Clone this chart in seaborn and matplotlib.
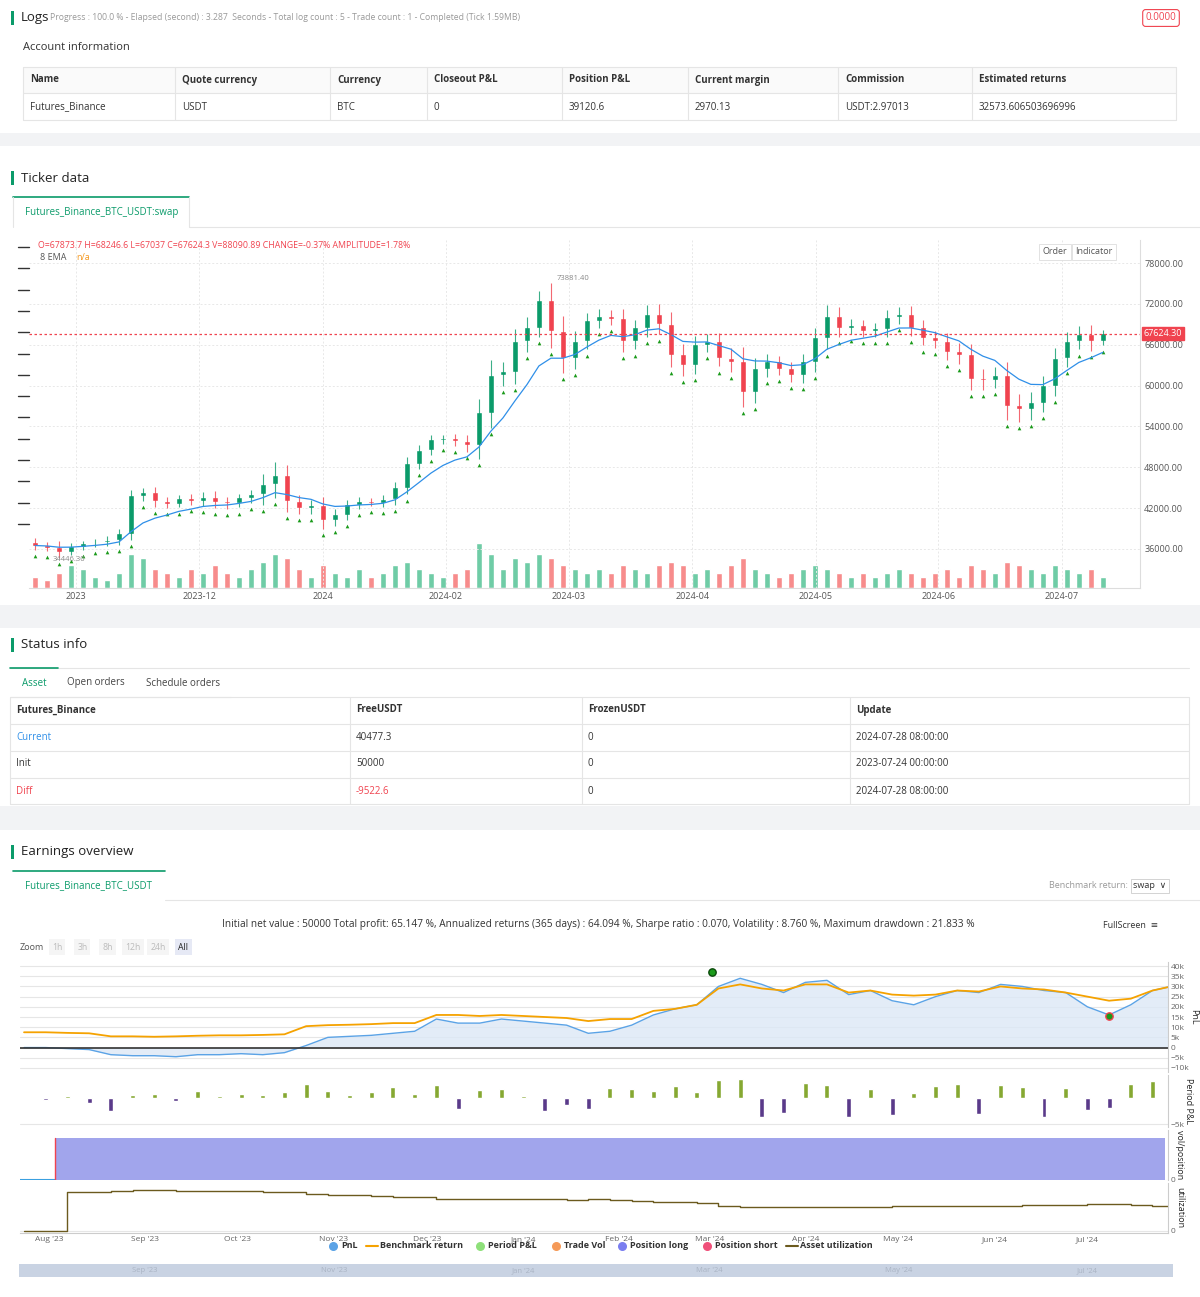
import matplotlib
matplotlib.use("Agg")
import matplotlib.pyplot as plt
import seaborn as sns
import numpy as np
import pandas as pd

# ---------------- data ----------------
acct_cols = ["Name", "Quote currency", "Currency", "Closeout P&L", "Position P&L",
             "Current margin", "Commission", "Estimated returns"]
acct_vals = ["Futures_Binance", "USDT", "BTC", "0", "39120.6", "2970.13",
             "USDT:2.97013", "32573.606503696996"]

status_cols = ["Futures_Binance", "FreeUSDT", "FrozenUSDT", "Update"]
status_rows = [["Current", "40477.3", "0", "2024-07-28 08:00:00"],
               ["Init", "50000", "0", "2023-07-24 00:00:00"],
               ["Diff", "-9522.6", "0", "2024-07-28 08:00:00"]]

closes = [36500, 36200, 35600, 36300, 36800, 37000, 37300, 38200, 43800, 44300,
          43000, 42600, 43400, 43000, 43600, 42900, 42700, 43500, 44000, 45500,
          46800, 43000, 42000, 42400, 40200, 41000, 42500, 43000, 42800, 43300,
          45000, 48500, 50500, 52000, 52200, 51800, 51200, 56000, 61500, 62000,
          66500, 68500, 72500, 68000, 64000, 66500, 69500, 70200, 69800, 66500,
          68500, 70500, 69000, 64500, 63000, 66000, 66500, 64000, 63500, 59000,
          62500, 63500, 62500, 61500, 63500, 67000, 70200, 68500, 68800, 68000,
          68300, 70000, 70500, 68500, 67000, 66500, 65000, 64500, 61000, 60800,
          61500, 57000, 56500, 57500, 60000, 64000, 66500, 67500, 66500, 67624.3]
first_open = 37000
wicks = [600, 500, 900, 500, 400, 500, 600, 700, 900, 700, 800, 600, 500, 600, 700,
         900, 800, 600, 700, 1500, 2000, 1600, 900, 800, 1200, 800, 700, 600, 500, 600,
         900, 1000, 800, 700, 600, 700, 900, 2000, 2200, 1500, 1800, 1600, 1400, 2500,
         2200, 1500, 1200, 1000, 900, 1500, 1200, 1300, 1500, 1800, 1600, 1300, 1100,
         1200, 1500, 2200, 1600, 1200, 900, 1000, 1100, 1500, 1700, 1300, 1000, 900,
         900, 1100, 1000, 1200, 1100, 1000, 1200, 1300, 1600, 1400, 1200, 2000, 1800,
         1500, 1400, 1500, 1300, 1200, 1400, 600]
volumes = [3, 2, 4, 6, 5, 3, 2, 4, 9, 8, 5, 4, 3, 5, 4, 6, 4, 3, 5, 7, 9, 8, 5, 3, 6,
           4, 3, 5, 3, 4, 6, 7, 5, 4, 3, 4, 5, 12, 9, 5, 8, 7, 9, 8, 6, 5, 4, 5, 4, 6,
           5, 4, 6, 7, 6, 4, 5, 4, 6, 8, 5, 4, 3, 4, 5, 6, 5, 4, 3, 4, 3, 4, 5, 4, 3,
           4, 5, 3, 6, 5, 4, 7, 6, 5, 4, 6, 5, 4, 5, 3]
cand_ticks = [3.4, 13.7, 24, 34.25, 44.5, 54.8, 65.1, 75.3, 85.6]
cand_labels = ["2023", "2023-12", "2024", "2024-02", "2024-03", "2024-04",
               "2024-05", "2024-06", "2024-07"]

week_days = list(range(0, 365, 7)) + [370]
pnl = [0, 0, -0.5, -1, -3.5, -4, -4, -4.5, -3.5, -3.5, -3, -3.5, -2.5, 1, 5, 5.5, 6,
       7, 8, 14, 12, 12, 14, 13, 12, 11, 7, 8, 11, 16, 19, 21, 30, 34, 31, 27, 32, 33,
       26, 28, 23, 21, 25, 28, 27, 31, 30, 28, 27, 20, 16, 21, 28, 30]
bench = [7.5, 7.5, 7.2, 7, 5.5, 5.5, 5.3, 5.5, 5.8, 6, 6, 6.2, 6.5, 10.5, 11, 11.2,
         11.5, 12, 12, 16, 16, 15.5, 16, 15.5, 15, 14.5, 13, 14, 14, 18, 19, 21, 29,
         31, 29, 28, 31, 31, 27, 28, 26, 25.5, 26, 28, 27.5, 30, 29, 28.5, 27, 25,
         23, 24, 28, 30]
period_pnl = [0, -0.3, 0.5, -0.8, -2.5, 0.6, 0.8, -0.5, 1.5, 0.4, 0.8, 0.6, 1.2, 2.8,
              1.5, 0.6, 1.2, 2.2, 0.9, 2.5, -2.0, 1.6, 1.8, 0.5, -2.5, -1.2, -2.1, 2.0,
              1.8, 1.5, 2.3, 1.2, 3.6, 3.8, -3.5, -2.8, 3.0, 2.5, -3.6, 1.8, -3.2, 1.1,
              2.4, 2.8, -3.0, 2.6, 2.2, -3.5, 2.0, -2.3, -1.8, 2.8, 3.3, 2.5]
util = [0, 0, 78, 78, 80, 81, 81, 80, 80, 79, 79, 78, 77, 73, 72, 71, 70, 68, 67,
        64, 64, 63, 63, 64, 63, 62, 63, 61, 60, 58, 57, 55, 50, 48, 47, 47, 48, 48,
        47, 48, 50, 49, 50, 49, 50, 50, 51, 51, 52, 53, 53, 52, 50, 50]
month_days = [8, 39, 69, 100, 130, 161, 192, 221, 252, 282, 313, 343]
month_labels = ["Aug '23", "Sep '23", "Oct '23", "Nov '23", "Dec '23", "Jan '24",
                "Feb '24", "Mar '24", "Apr '24", "May '24", "Jun '24", "Jul '24"]

# ---------------- figure ----------------
sns.set_style("white")
plt.rcParams['font.family'] = ['Open Sans', 'DejaVu Sans']
W, H = 1200, 1297
fig = plt.figure(figsize=(W / 100, H / 100), dpi=100)
GREEN, RED, GRAY = "#0b9b6a", "#f0434f", "#555555"


def ax_at(x0, y0, x1, y1, **kw):
    return fig.add_axes([x0 / W, 1 - y1 / H, (x1 - x0) / W, (y1 - y0) / H], **kw)


bg = ax_at(0, 0, W, H)
bg.set_xlim(0, W)
bg.set_ylim(H, 0)
bg.axis("off")
bg.set_zorder(5)
bg.patch.set_alpha(0)
for y0, y1 in [(133, 146), (605, 628), (806, 830)]:
    bg.add_patch(plt.Rectangle((0, y0), W, y1 - y0, color="#f2f3f5", lw=0))
for y, t in [(18, "Logs"), (178, "Ticker data"), (645, "Status info"), (852, "Earnings overview")]:
    bg.add_patch(plt.Rectangle((11, y - 7), 3, 14, color=GREEN, lw=0))
    bg.text(21, y, t, fontsize=9.5, va="center", color="#222222")
bg.text(50, 18, "Progress : 100.0 % - Elapsed (second) : 3.287  Seconds - Total log count : 5 - Trade count : 1 - Completed (Tick 1.59MB)",
        fontsize=6.2, va="center", color="#999999")
bg.text(1161, 18, "0.0000", fontsize=7, va="center", ha="center", color=RED,
        bbox=dict(boxstyle="round,pad=0.3", fc="white", ec=RED, lw=0.8))
bg.text(23, 47, "Account information", fontsize=8, va="center", color="#333333")

# account table
cx = [23, 175, 330, 427, 562, 688, 838, 972, 1176]
bg.add_patch(plt.Rectangle((23, 67), 1153, 26, color="#fafafa", lw=0))
for yy in [67, 93, 120]:
    bg.plot([23, 1176], [yy, yy], color="#e5e5e5", lw=0.8)
for xx in cx:
    bg.plot([xx, xx], [67, 120], color="#e5e5e5", lw=0.8)
for i in range(8):
    bg.text(cx[i] + 7, 80, acct_cols[i], fontsize=7, va="center", weight="bold", color="#333333")
    bg.text(cx[i] + 7, 107, acct_vals[i], fontsize=7, va="center", color="#333333")

# ticker tab
bg.text(25, 212, "Futures_Binance_BTC_USDT:swap", fontsize=7, va="center", color=GREEN)
bg.plot([13, 189], [197, 197], color=GREEN, lw=1.2)
bg.plot([13, 13], [197, 227], color="#e5e5e5", lw=0.8)
bg.plot([189, 189], [197, 227], color="#e5e5e5", lw=0.8)
bg.plot([189, 1200], [227, 227], color="#e5e5e5", lw=0.8)
for y in np.arange(247, 530, 21.3):
    bg.plot([18, 29], [y, y], color="#333333", lw=1)
bg.text(1055, 252, "Order", fontsize=6.5, va="center", ha="center", color=GRAY,
        bbox=dict(boxstyle="square,pad=0.4", fc="white", ec="#dddddd", lw=0.6))
bg.text(1094, 252, "Indicator", fontsize=6.5, va="center", ha="center", color=GRAY,
        bbox=dict(boxstyle="square,pad=0.4", fc="white", ec="#dddddd", lw=0.6))
bg.text(38, 245, "O=67873.7 H=68246.6 L=67037 C=67624.3 V=88090.89 CHANGE=-0.37% AMPLITUDE=1.78%",
        fontsize=6.3, va="center", color=RED)
bg.text(40, 257, "8 EMA", fontsize=6.5, va="center", color=GRAY)
bg.text(76, 257, "n/a", fontsize=6.5, va="center", color="#f59a23")

# ---------------- candlestick chart ----------------
ax = ax_at(29, 240, 1140, 588)
n = len(closes)
idx = np.arange(n)
opens = np.array([first_open] + closes[:-1], dtype=float)
cl = np.array(closes, dtype=float)
wk = np.array(wicks, dtype=float)
hi = np.maximum(opens, cl) + wk
lo = np.minimum(opens, cl) - wk
up = cl >= opens
cols = np.where(up, GREEN, RED)
vax = ax.twinx()
vax.bar(idx, volumes, width=0.55, color=np.where(up, "#6fcca6", "#f78c8c"))
vax.set_ylim(0, max(volumes) * 348 / 45)
vax.axis("off")
ax.set_zorder(vax.get_zorder() + 1)
ax.patch.set_alpha(0)
ax.vlines(idx, lo, hi, colors=cols, lw=0.8, alpha=0.8)
ax.bar(idx, np.abs(cl - opens) + 80, bottom=np.minimum(opens, cl), width=0.55, color=cols)
ema = pd.Series(cl).ewm(span=8, adjust=False).mean()
sns.lineplot(x=idx, y=ema.values, ax=ax, color="#2f8fe8", lw=0.9)
ax.scatter(idx, lo - 900, marker="^", s=7, color="#1a9a1a", lw=0)
ax.axhline(closes[-1], color=RED, ls=(0, (2, 2)), lw=0.9)
ax.set_xlim(-0.5, 92.1)
vax.set_xlim(-0.5, 92.1)
ax.set_ylim(30260, 81380)
ticks = np.arange(36000, 78001, 6000)
ax.set_yticks(ticks)
ax.yaxis.tick_right()
ax.set_yticklabels([f"{v:.2f}" for v in ticks], fontsize=6.5, color=GRAY)
ax.set_xticks(cand_ticks)
ax.set_xticklabels(cand_labels, fontsize=6.5, color=GRAY)
ax.tick_params(length=0, pad=3)
ax.grid(True, color="#e8e8e8", ls=(0, (2, 2)), lw=0.7)
for s in ["top", "left"]:
    ax.spines[s].set_visible(False)
for s in ["right", "bottom"]:
    ax.spines[s].set_color("#dddddd")
ax.text(92.4, closes[-1], f"{closes[-1]:.2f}", fontsize=6.5, color="white", va="center",
        bbox=dict(boxstyle="square,pad=0.2", fc=RED, ec=RED))
pk = int(np.argmax(hi))
ax.text(pk + 0.5, hi[pk] + 500, "73881.40", fontsize=5.5, color="#888888")
ax.text(1.5, 34446.3, "34446.30", fontsize=5.5, color="#888888", va="center")

# ---------------- status table ----------------
bg.plot([10, 1189], [668, 668], color="#e5e5e5", lw=0.8)
for xt, t in [(34, "Asset"), (96, "Open orders"), (183, "Schedule orders")]:
    bg.text(xt, 683, t, fontsize=7, va="center", ha="center", color=GREEN if t == "Asset" else "#444444")
bg.plot([10, 231], [697, 697], color="#e5e5e5", lw=0.8)
bg.plot([10, 58], [668, 668], color=GREEN, lw=1.2)
sx = [10, 350, 582, 850, 1189]
for yy in [697, 724, 751, 778, 804]:
    bg.plot([10, 1189], [yy, yy], color="#e5e5e5", lw=0.8)
for xx in sx:
    bg.plot([xx, xx], [697, 804], color="#e5e5e5", lw=0.8)
for i in range(4):
    bg.text(sx[i] + 6, 710, status_cols[i], fontsize=7, va="center", weight="bold", color="#333333")
for r, row in enumerate(status_rows):
    for i in range(4):
        c = "#333333"
        if i == 0 and r == 0:
            c = "#2f8fe8"
        if (i == 0 or i == 1) and r == 2:
            c = RED
        bg.text(sx[i] + 6, 737 + 27 * r, row[i], fontsize=7, va="center", color=c)

# ---------------- earnings ----------------
bg.text(25, 886, "Futures_Binance_BTC_USDT", fontsize=7, va="center", color=GREEN)
bg.plot([13, 165], [871, 871], color=GREEN, lw=1.2)
bg.plot([165, 1200], [900, 900], color="#e5e5e5", lw=0.8)
bg.text(1128, 886, "Benchmark return:", fontsize=6.5, va="center", ha="right", color="#999999")
bg.text(1150, 886, "swap  \u2228", fontsize=6.5, va="center", ha="center", color="#333333",
        bbox=dict(boxstyle="square,pad=0.3", fc="white", ec="#cccccc", lw=0.6))
bg.text(598, 925, "Initial net value : 50000 Total profit: 65.147 %, Annualized returns (365 days) : 64.094 %, Sharpe ratio : 0.070, Volatility : 8.760 %, Maximum drawdown : 21.833 %",
        fontsize=7.3, va="center", ha="center", color="#333333")
bg.text(1158, 926, "FullScreen  \u2261", fontsize=6.5, va="center", ha="right", color="#333333")
bg.text(20, 947, "Zoom", fontsize=6.5, va="center", color="#555555")
for k, t in enumerate(["1h", "3h", "8h", "12h", "24h", "All"]):
    bg.text(57 + 25.3 * k, 947, t, fontsize=6.3, va="center", ha="center",
            color="#222222" if t == "All" else "#bbbbbb",
            bbox=dict(boxstyle="square,pad=0.35", fc="#e6e9f5" if t == "All" else "#f5f5f5", ec="none"))

XL = (-1.3, 369)
RX = 1168
a1 = ax_at(20, 962, RX, 1072)
d = np.array(week_days)
p = np.array(pnl)
a1.fill_between(d, p, 0, color="#dce8f6", alpha=0.8, lw=0)
sns.lineplot(x=d, y=p, ax=a1, color="#5ba3e6", lw=1)
sns.lineplot(x=d, y=bench, ax=a1, color="#f5a200", lw=1.3)
a1.axhline(0, color="#333333", lw=1.2)
a1.scatter([222], [37], s=28, color="#1a9a1a", ec="#0a4a0a", zorder=5)
a1.scatter([350], [15.5], s=28, color="#1a9a1a", ec=RED, zorder=5)
a1.set_ylim(-12, 42)
a1.set_yticks(np.arange(-10, 41, 5))
a1.set_yticklabels(["\u221210k", "\u22125k", "0"] + [f"{v}k" for v in range(5, 41, 5)])
a1.set_ylabel("PnL", rotation=270, labelpad=6, fontsize=6.5)

a2 = ax_at(20, 1075, RX, 1127)
a2.bar(d, period_pnl, width=1.6, color=np.where(np.array(period_pnl) >= 0, "#86a832", "#5a3a8a"))
a2.set_ylim(-5.5, 4.5)
a2.set_yticks([-5])
a2.set_yticklabels(["\u22125k"])
a2.set_ylabel("Period P&L", rotation=270, labelpad=6, fontsize=6.5)

a3 = ax_at(20, 1130, RX, 1180)
a3.fill_between([10, 368], [1, 1], 0, color="#a1a5ec", lw=0)
a3.plot([-1.3, 10], [0, 0], color="#3aa0e0", lw=1.5)
a3.plot([10, 10], [0, 1], color=RED, lw=1)
a3.set_ylim(0, 1.2)
a3.set_yticks([0])
a3.set_ylabel("vol/position", rotation=270, labelpad=6, fontsize=6.5)

a4 = ax_at(20, 1183, RX, 1233)
sns.lineplot(x=d, y=util, ax=a4, color="#6b5a1e", lw=1, drawstyle="steps-post")
a4.set_ylim(-4, 95)
a4.set_yticks([0])
a4.set_ylabel("utilization", rotation=270, labelpad=6, fontsize=6.5)

for a in [a1, a2, a3, a4]:
    a.set_xlim(*XL)
    a.yaxis.tick_right()
    a.yaxis.set_label_position("right")
    a.tick_params(length=0, labelsize=6, colors="#666666", pad=2)
    a.grid(axis="y", color="#e6e6e6", lw=0.8)
    a.set_xticks([])
    for s in ["top", "left", "bottom"]:
        a.spines[s].set_visible(False)
    a.spines["right"].set_color("#cccccc")
a4.spines["bottom"].set_visible(True)
a4.spines["bottom"].set_color("#cccccc")
a4.set_xticks(month_days)
a4.set_xticklabels(month_labels, fontsize=6)

leg = [("PnL", "#5ba3e6", "o"), ("Benchmark return", "#f5a200", "-"), ("Period P&L", "#8ee07a", "o"),
       ("Trade Vol", "#f59a58", "o"), ("Position long", "#7a7ef0", "o"), ("Position short", "#f0507a", "o"),
       ("Asset utilization", "#6b5a1e", "-")]
xs = [333, 372, 480, 556, 622, 707, 792]
for (t, c, m), xx in zip(leg, xs):
    if m == "o":
        bg.scatter([xx], [1246], s=30, color=c, zorder=5)
    else:
        bg.plot([xx - 6, xx + 6], [1246, 1246], color=c, lw=1.5)
    bg.text(xx + 8, 1246, t, fontsize=6.5, va="center", weight="bold", color="#333333")

bg.add_patch(plt.Rectangle((19, 1264), 1154, 13, color="#c9d3e3", lw=0))
for dd, t in zip([39, 100, 161, 221, 282, 343], ["Sep '23", "Nov '23", "Jan '24", "Mar '24", "May '24", "Jul '24"]):
    bg.text(24 + dd * 3.1, 1271, t, fontsize=5.5, va="center", ha="center", color="#aab4c4")

fig.savefig("out.png", dpi=100)
